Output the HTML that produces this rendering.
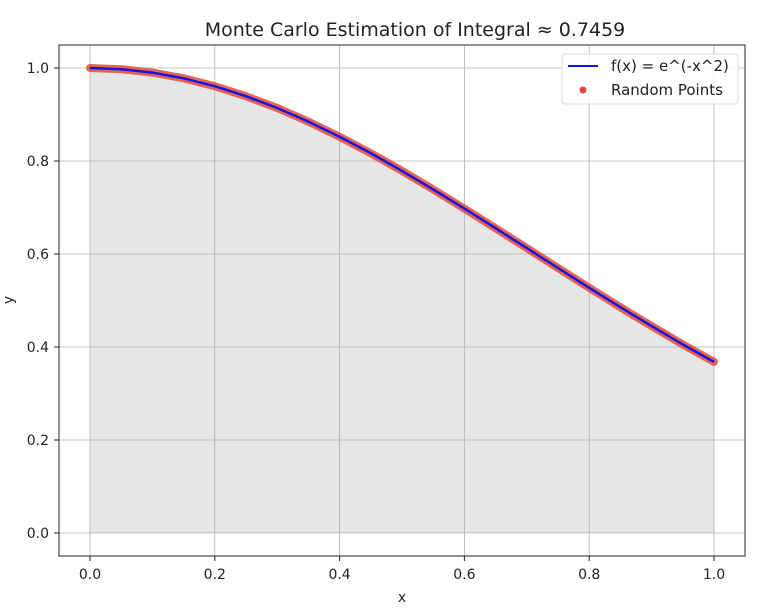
<!DOCTYPE html>
<html><head><style>body{margin:0;background:#fff}svg{display:block;font-family:"DejaVu Sans","Liberation Sans",sans-serif}</style></head><body>
<svg width="768" height="616" viewBox="0 0 768 616">
<rect width="768" height="616" fill="#fff"/>
<path d="M90,68 L121.2,69.2 L152.4,72.6 L183.6,78.3 L214.8,86.2 L246,96.2 L277.2,108 L308.4,121.6 L339.6,136.8 L370.8,153.2 L402,170.9 L433.2,189.4 L464.4,208.6 L495.6,228.2 L526.8,248.1 L558,268 L589.2,287.8 L620.4,307.2 L651.6,326.1 L682.8,344.4 L714,361.9 L714,533 L90,533 Z" fill="#e6e6e6"/>
<g stroke="#b0b0b0" stroke-width="0.8">
<line x1="90" y1="45" x2="90" y2="556"/><line x1="214.8" y1="45" x2="214.8" y2="556"/><line x1="339.6" y1="45" x2="339.6" y2="556"/><line x1="464.4" y1="45" x2="464.4" y2="556"/><line x1="589.2" y1="45" x2="589.2" y2="556"/><line x1="714" y1="45" x2="714" y2="556"/>
<line x1="59" y1="533" x2="745" y2="533"/><line x1="59" y1="440" x2="745" y2="440"/><line x1="59" y1="347" x2="745" y2="347"/><line x1="59" y1="254" x2="745" y2="254"/><line x1="59" y1="161" x2="745" y2="161"/><line x1="59" y1="68" x2="745" y2="68"/>
</g>
<polyline fill="none" stroke="#e24a3b" stroke-opacity="0.85" stroke-width="8" stroke-linecap="round" points="90,68 121.2,69.2 152.4,72.6 183.6,78.3 214.8,86.2 246,96.2 277.2,108 308.4,121.6 339.6,136.8 370.8,153.2 402,170.9 433.2,189.4 464.4,208.6 495.6,228.2 526.8,248.1 558,268 589.2,287.8 620.4,307.2 651.6,326.1 682.8,344.4 714,361.9"/>
<polyline fill="none" stroke="#1515e0" stroke-width="2.5" points="90,68 121.2,69.2 152.4,72.6 183.6,78.3 214.8,86.2 246,96.2 277.2,108 308.4,121.6 339.6,136.8 370.8,153.2 402,170.9 433.2,189.4 464.4,208.6 495.6,228.2 526.8,248.1 558,268 589.2,287.8 620.4,307.2 651.6,326.1 682.8,344.4 714,361.9"/>
<rect x="59" y="45" width="686" height="511" fill="none" stroke="#222" stroke-width="1"/>
<g stroke="#222"><line x1="90" y1="556" x2="90" y2="561"/><line x1="214.8" y1="556" x2="214.8" y2="561"/><line x1="339.6" y1="556" x2="339.6" y2="561"/><line x1="464.4" y1="556" x2="464.4" y2="561"/><line x1="589.2" y1="556" x2="589.2" y2="561"/><line x1="714" y1="556" x2="714" y2="561"/>
<line x1="54" y1="533" x2="59" y2="533"/><line x1="54" y1="440" x2="59" y2="440"/><line x1="54" y1="347" x2="59" y2="347"/><line x1="54" y1="254" x2="59" y2="254"/><line x1="54" y1="161" x2="59" y2="161"/><line x1="54" y1="68" x2="59" y2="68"/></g>
<g font-size="14" fill="#222" text-anchor="middle"><text x="90" y="579">0.0</text><text x="214.8" y="579">0.2</text><text x="339.6" y="579">0.4</text><text x="464.4" y="579">0.6</text><text x="589.2" y="579">0.8</text><text x="714" y="579">1.0</text><text x="402" y="602">x</text></g>
<g font-size="14" fill="#222" text-anchor="end"><text x="49" y="538">0.0</text><text x="49" y="445">0.2</text><text x="49" y="352">0.4</text><text x="49" y="259">0.6</text><text x="49" y="166">0.8</text><text x="49" y="73">1.0</text></g>
<text x="13" y="300" font-size="14" fill="#222" text-anchor="middle" transform="rotate(-90 13 300)">y</text>
<text x="415" y="36" font-size="19" fill="#222" text-anchor="middle">Monte Carlo Estimation of Integral ≈ 0.7459</text>
<rect x="562" y="54" width="176" height="50" rx="3" fill="#fff" fill-opacity="0.85" stroke="#ddd"/>
<line x1="568" y1="66" x2="598" y2="66" stroke="#1515e0" stroke-width="2"/>
<circle cx="583" cy="90" r="3.5" fill="#e24a3b"/>
<text x="611" y="71" font-size="15" fill="#222">f(x) = e^(-x^2)</text>
<text x="611" y="95" font-size="15" fill="#222">Random Points</text>
</svg>
</body></html>
